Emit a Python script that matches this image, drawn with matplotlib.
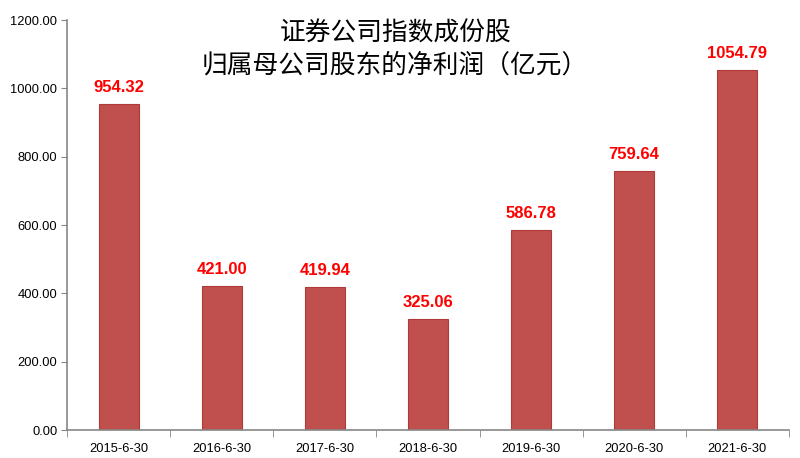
import matplotlib.pyplot as plt
import numpy as np

dates = ["2015-6-30", "2016-6-30", "2017-6-30", "2018-6-30",
         "2019-6-30", "2020-6-30", "2021-6-30"]
profits = [954.32, 421.00, 419.94, 325.06, 586.78, 759.64, 1054.79]
y_ticks = [0, 200, 400, 600, 800, 1000, 1200]

plt.rcParams['font.family'] = ['Liberation Sans', 'DejaVu Sans']

fig = plt.figure(figsize=(8, 4.58), dpi=100)
ax = fig.add_axes([0.084, 0.061, 0.902, 0.895])

x = np.arange(len(dates))
ax.bar(x, profits, width=0.39, color='#C0504D', edgecolor='#B03A37', linewidth=0.8, zorder=2)

# value labels above bars
for xi, v in zip(x, profits):
    ax.text(xi, v + 26, f"{v:.2f}", ha='center', va='bottom', color='#FF0000',
            fontsize=12, fontweight='bold')

ax.set_xlim(-0.5, len(dates) - 0.5)
ax.set_ylim(0, 1200)
ax.set_yticks(y_ticks)
ax.set_yticklabels([f"{t:.2f}" for t in y_ticks], fontsize=9.3)

ax.set_xticks(x)
ax.set_xticklabels(dates, fontsize=9.3)
ax.tick_params(axis='x', length=0, pad=9)
ax.set_xticks(np.arange(len(dates) + 1) - 0.5, minor=True)
ax.tick_params(axis='x', which='minor', length=5, direction='out', color='#868686')
ax.tick_params(axis='y', length=4, direction='out', color='#868686', pad=3)

for s in ['top', 'right']:
    ax.spines[s].set_visible(False)
for s in ['left', 'bottom']:
    ax.spines[s].set_color('#868686')
    ax.spines[s].set_linewidth(1.2)

fig.text(0.494, 0.892, "证券公司指数成份股\n归属母公司股东的净利润（亿元）", ha='center', va='center',
         fontsize=18.5, family=['Noto Sans CJK SC', 'DejaVu Sans'], linespacing=1.3)

fig.savefig("out.png", dpi=100)
